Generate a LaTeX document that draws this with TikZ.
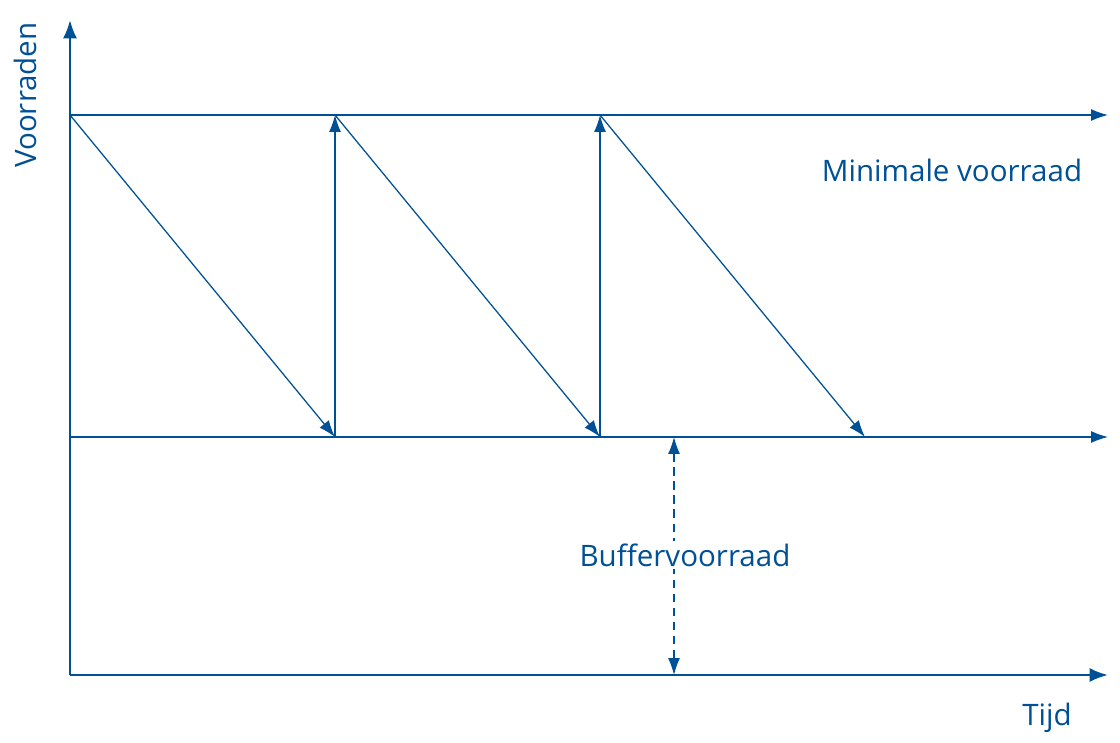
\documentclass[tikz,border=0pt]{standalone}
\usepackage{fontspec}
\setmainfont{Open Sans}
\usetikzlibrary{arrows.meta, positioning}
\definecolor{stockblue}{RGB}{0, 80, 150}

\begin{document}
\begin{tikzpicture}[
    x=0.025cm, y=-0.025cm,
    line/.style={stockblue, line width=0.9pt, -{Latex[length=12pt, width=8.5pt]}},
    axis/.style={stockblue, line width=1.8pt, -{Latex[length=13pt, width=10pt]}},
    label/.style={text=stockblue, font=\fontsize{21}{24}\selectfont}
]
\useasboundingbox (0,0) rectangle (1120,743);

% Axes
\coordinate (o) at (70,675);
\coordinate (ytop) at (70,20);
\coordinate (xend) at (1108,675);
\draw[axis] (o) -- (ytop);
\draw[axis] (o) -- (xend);

% Levels
\coordinate (t0) at (70,115);
\coordinate (tend) at (1108,115);
\coordinate (b0) at (70,437);
\coordinate (bend) at (1108,437);
\draw[line] (t0) -- (tend);
\draw[line] (b0) -- (bend);

% Saw teeth
\coordinate (b1) at (335,437);
\coordinate (t1) at (335,115);
\coordinate (b2) at (600,437);
\coordinate (t2) at (600,115);
\coordinate (b3) at (865,437);
\draw[line] (t0) -- (b1);
\draw[line] (b1) -- (t1);
\draw[line] (t1) -- (b2);
\draw[line] (b2) -- (t2);
\draw[line] (t2) -- (b3);

% Buffer
\coordinate (bufa) at (674,437);
\coordinate (bufb) at (674,675);
\draw[line, dash pattern=on 6pt off 4pt, {Latex[length=12pt, width=8.5pt]}-{Latex[length=12pt, width=8.5pt]}] (bufa) -- (bufb);
\node[label, fill=white, inner sep=2pt] (buffer) at (685,555) {Buffervoorraad};

% Texts
\node[label] (minimum) at (952,170) {Minimale voorraad};
\node[label] (time) at (1047,718) {Tijd};
\node[label, rotate=90] (stock) at (25,95) {Voorraden};

\end{tikzpicture}
\end{document}
